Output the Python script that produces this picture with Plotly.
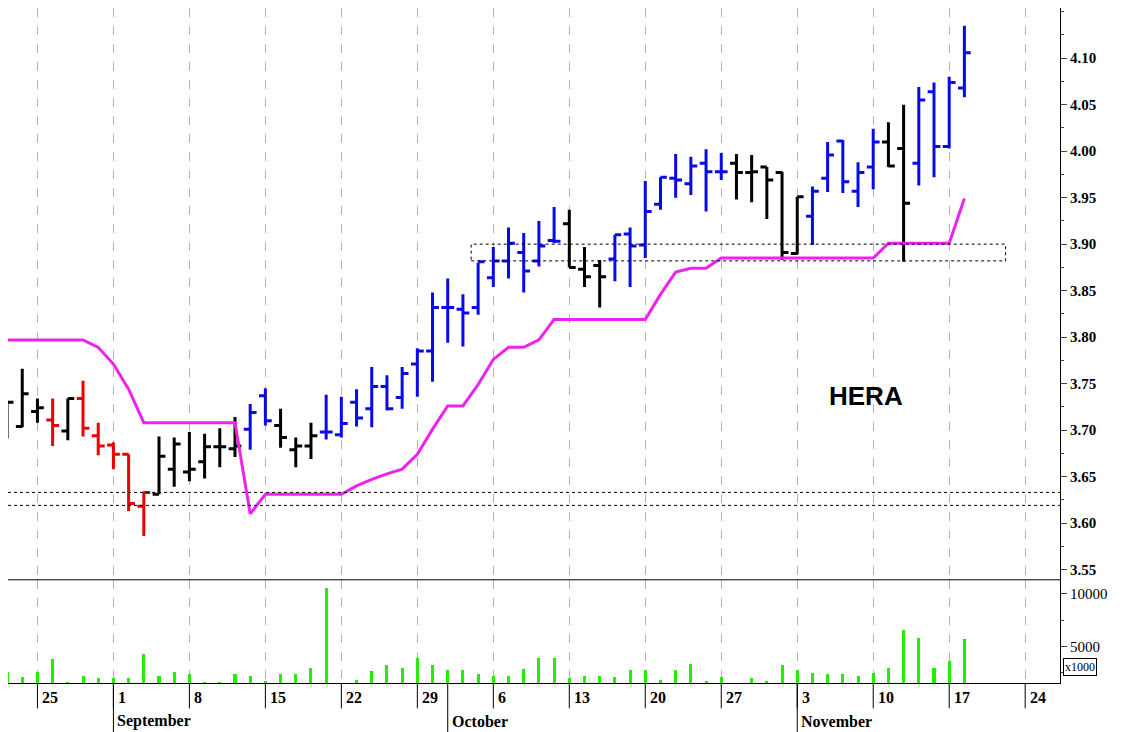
import pandas as pd
import plotly.graph_objects as go

# giorni di borsa 21 ago - 18 nov 2014
dates = pd.bdate_range("2014-08-21", "2014-11-18")

opens = [3.713, 3.704, 3.720, 3.711, 3.699, 3.734, 3.694, 3.684, 3.674, 3.618,
         3.631, 3.658, 3.655, 3.666, 3.682, 3.680, 3.701, 3.737, 3.705, 3.679,
         3.683, 3.698, 3.695, 3.730, 3.723, 3.747, 3.735, 3.771, 3.785, 3.832,
         3.830, 3.832, 3.864, 3.882, 3.891, 3.882, 3.904, 3.922, 3.873, 3.877,
         3.884, 3.911, 3.899, 3.943, 3.971, 3.965, 3.987, 3.978, 3.987, 3.977,
         3.983, 3.977, 3.890, 3.930, 3.971, 4.011, 3.957, 3.983, 4.010, 4.003,
         3.987, 4.064, 4.005, 4.068]
highs = [3.730, 3.766, 3.734, 3.734, 3.734, 3.753, 3.708, 3.687, 3.674, 3.634,
         3.693, 3.692, 3.698, 3.696, 3.702, 3.714, 3.728, 3.745, 3.723, 3.692,
         3.708, 3.738, 3.736, 3.744, 3.768, 3.759, 3.768, 3.788, 3.848, 3.863,
         3.846, 3.880, 3.897, 3.918, 3.912, 3.925, 3.940, 3.937, 3.897, 3.883,
         3.910, 3.918, 3.968, 3.972, 3.997, 3.994, 4.002, 3.998, 3.997, 3.996,
         3.983, 3.978, 3.951, 3.962, 4.010, 4.012, 3.988, 4.024, 4.031, 4.050,
         4.069, 4.074, 4.080, 4.135]
lows = [3.691, 3.703, 3.708, 3.683, 3.689, 3.693, 3.673, 3.658, 3.613, 3.586,
        3.631, 3.639, 3.645, 3.648, 3.660, 3.671, 3.679, 3.705, 3.681, 3.660,
        3.669, 3.690, 3.692, 3.704, 3.703, 3.721, 3.723, 3.736, 3.752, 3.794,
        3.790, 3.824, 3.854, 3.863, 3.848, 3.876, 3.901, 3.875, 3.854, 3.832,
        3.860, 3.854, 3.885, 3.937, 3.950, 3.953, 3.935, 3.969, 3.948, 3.945,
        3.927, 3.883, 3.889, 3.899, 3.956, 3.955, 3.940, 3.959, 3.983, 3.881,
        3.963, 3.972, 4.003, 4.058]
closes = [3.730, 3.739, 3.724, 3.705, 3.734, 3.702, 3.683, 3.674, 3.621, 3.633,
          3.672, 3.685, 3.658, 3.682, 3.682, 3.683, 3.719, 3.710, 3.692, 3.683,
          3.694, 3.698, 3.707, 3.713, 3.747, 3.723, 3.761, 3.785, 3.832, 3.832,
          3.826, 3.881, 3.882, 3.901, 3.871, 3.898, 3.903, 3.875, 3.865, 3.865,
          3.910, 3.898, 3.935, 3.972, 3.969, 3.984, 3.978, 3.978, 3.977, 3.978,
          3.969, 3.891, 3.951, 3.957, 3.996, 3.967, 3.977, 4.010, 3.984, 3.944,
          4.055, 4.005, 4.074, 4.106]
# colore barre: k=nero, r=rosso, b=blu
bar_colors = list("kkkrkrrrrrkkkkkkbbkkkbbbbbbbbbbbbbbbbkkkbbbbbbbbkkkkkbbbbbkkbbbb")

stop_line = [3.797, 3.797, 3.797, 3.797, 3.797, 3.797, 3.789, 3.771, 3.744, 3.708,
             3.708, 3.708, 3.708, 3.708, 3.708, 3.708, 3.610, 3.631, 3.631, 3.631,
             3.631, 3.631, 3.631, 3.640, 3.647, 3.653, 3.658, 3.674, 3.701, 3.726,
             3.726, 3.749, 3.776, 3.789, 3.789, 3.797, 3.819, 3.819, 3.819, 3.819,
             3.819, 3.819, 3.819, 3.846, 3.870, 3.874, 3.874, 3.885, 3.885, 3.885,
             3.885, 3.885, 3.885, 3.885, 3.885, 3.885, 3.885, 3.885, 3.901, 3.901,
             3.901, 3.901, 3.901, 3.949]

volume = [2580, 2160, 2580, 3800, 1610, 2260, 2030, 2000, 2000, 4350,
          2260, 2580, 2420, 1610, 1610, 2420, 2260, 1710, 2420, 2420,
          2970, 10550, 1400, 1870, 2680, 3230, 2970, 3940, 3230, 2840,
          2840, 2420, 2260, 2260, 2900, 3940, 3940, 2000, 2260, 2260,
          2160, 2840, 2840, 1870, 2840, 3390, 1710, 2100, 1550, 2000,
          1770, 3230, 2840, 2520, 2420, 2420, 2260, 2520, 2970, 6550,
          5870, 2970, 3640, 5740]

mondays = pd.date_range("2014-08-25", "2014-11-24", freq="7D")
month_starts = ["2014-09-01", "2014-10-01", "2014-11-03"]
month_names = ["September", "October", "November"]
price_ticks = [3.55, 3.60, 3.65, 3.70, 3.75, 3.80, 3.85, 3.90, 3.95, 4.00, 4.05, 4.10]
vol_ticks = [5000, 10000]

col_map = {"k": "#000000", "r": "#ee0000", "b": "#0a0ae6"}
serif = "Liberation Serif"
split = 0.1529  # confine pannello prezzi / volumi

df = pd.DataFrame(dict(d=dates, o=opens, h=highs, l=lows, c=closes, col=bar_colors))

fig = go.Figure()

for key, colr in col_map.items():
    sub = df[df["col"] == key]
    fig.add_trace(go.Ohlc(
        x=sub["d"], open=sub["o"], high=sub["h"], low=sub["l"], close=sub["c"],
        increasing_line=dict(color=colr, width=3),
        decreasing_line=dict(color=colr, width=3),
        tickwidth=0.42, showlegend=False, yaxis="y",
    ))

fig.add_trace(go.Scatter(x=dates, y=stop_line, mode="lines",
                         line=dict(color="#ee22ee", width=3),
                         showlegend=False, yaxis="y"))

fig.add_trace(go.Bar(x=dates, y=volume, yaxis="y2", marker_color="#22ee00",
                     marker_line_width=0, width=0.2 * 86400000, showlegend=False))

fig.update_layout(
    width=1124, height=724,
    margin=dict(l=0, r=72, t=0, b=49),
    plot_bgcolor="#ffffff", paper_bgcolor="#ffffff",
    xaxis=dict(
        range=["2014-08-21 01:30", "2014-11-26 07:00"],
        rangebreaks=[dict(bounds=["sat", "mon"])],
        rangeslider=dict(visible=False),
        tickvals=mondays, showticklabels=False,
        showgrid=True, gridcolor="#b4b4b4", griddash="dash", gridwidth=1,
        showline=True, linecolor="#000000", linewidth=1,
        anchor="y2", ticks="",
    ),
    yaxis=dict(
        domain=[split, 1], range=[3.539, 4.154], side="right",
        tickvals=price_ticks, tickformat=".2f",
        tickfont=dict(family=serif, size=15, color="#000000", weight="bold"),
        showgrid=False, showline=True, linecolor="#000000", linewidth=1,
        ticks="outside", ticklen=6, zeroline=False,
        minor=dict(dtick=0.025, tick0=3.525, ticks="outside", ticklen=3),
    ),
    yaxis2=dict(
        domain=[0, split], range=[1538, 11346], side="right",
        tickvals=vol_ticks, ticktext=[str(v) for v in vol_ticks],
        tickfont=dict(family=serif, size=15, color="#000000"),
        showgrid=False, showline=True, linecolor="#000000", linewidth=1,
        ticks="outside", ticklen=6, zeroline=False,
        minor=dict(dtick=2500, ticks="outside", ticklen=3),
    ),
    bargap=0,
)

# linee tratteggiate di supporto
for lvl in [3.633, 3.619]:
    fig.add_shape(type="line", xref="paper", yref="y", x0=0, x1=1, y0=lvl, y1=lvl,
                  line=dict(color="#000000", width=1, dash="dot"))
fig.add_shape(type="rect", xref="x", yref="y",
              x0="2014-10-02 13:00", x1="2014-11-20 17:00", y0=3.882, y1=3.900,
              line=dict(color="#000000", width=1, dash="dot"))
# separatore pannelli
fig.add_shape(type="line", xref="paper", yref="paper", x0=0, x1=1, y0=split, y1=split,
              line=dict(color="#000000", width=1))

# etichette date
for m in mondays:
    fig.add_shape(type="line", xref="x", yref="paper", x0=m, x1=m, y0=0, y1=-0.0375,
                  line=dict(color="#000000", width=1))
    fig.add_annotation(x=m, y=-0.021, xref="x", yref="paper", text=str(m.day),
                       showarrow=False, xanchor="left", yanchor="middle", xshift=3,
                       font=dict(family=serif, size=16, color="#000000", weight="bold"))
for ms, name in zip(month_starts, month_names):
    fig.add_shape(type="line", xref="x", yref="paper", x0=ms, x1=ms, y0=0, y1=-0.074,
                  line=dict(color="#000000", width=1))
    fig.add_annotation(x=ms, y=-0.057, xref="x", yref="paper", text=name,
                       showarrow=False, xanchor="left", yanchor="middle", xshift=2,
                       font=dict(family=serif, size=16, color="#000000", weight="bold"))

fig.add_annotation(x=0.853, y=0.425, xref="paper", yref="paper", text="<b>HERA</b>",
                   showarrow=False, font=dict(family="Liberation Sans", size=26, color="#000000"))
fig.add_annotation(x=1.003, y=0.01, xref="paper", yref="paper", text="x1000",
                   showarrow=False, xanchor="left", yanchor="bottom",
                   bordercolor="#000000", borderwidth=1, borderpad=1,
                   font=dict(family=serif, size=12, color="#000000"))

fig.write_html("out.html")
